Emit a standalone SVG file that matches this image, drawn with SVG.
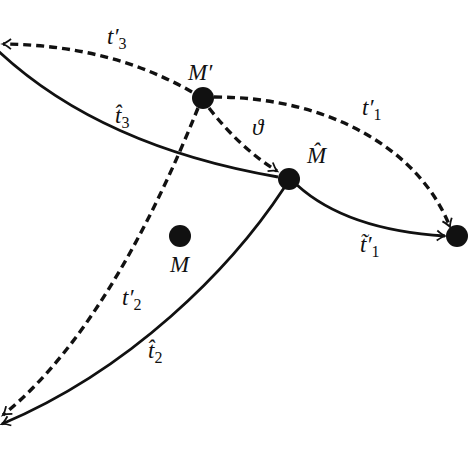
<svg xmlns="http://www.w3.org/2000/svg" width="474" height="474" viewBox="0 0 474 474">
<style>
.s{fill:none;stroke:#111;stroke-width:2.8}
.d{fill:none;stroke:#111;stroke-width:3.4;stroke-dasharray:8 5}
.n{fill:#111}
text{font-family:"Liberation Serif","DejaVu Serif",serif;font-style:italic;font-size:23px;fill:#111}
.sb{font-size:16px;font-style:normal}
</style>
<defs>
<marker id="a" markerUnits="userSpaceOnUse" markerWidth="16" markerHeight="16" refX="0" refY="0" viewBox="-10 -8 12 16" orient="auto" overflow="visible">
<path d="M-8,-5 Q-3,-1 0,0 Q-3,1 -8,5" fill="none" stroke="#111" stroke-width="1.8"/>
</marker>
</defs>
<rect width="474" height="474" fill="#fff"/>
<g id="connectors">
<path class="d" d="M192,92 Q110,45 3,44" marker-end="url(#a)"/>
<path class="s" d="M-5,48 C60,110 150,155 278,177"/>
<path class="d" d="M214,97 C330,97 420,150 450,227" marker-end="url(#a)"/>
<path class="d" d="M209,108 Q240,148 277,171" marker-end="url(#a)"/>
<path class="s" d="M297,185 C330,215 380,232 445,236" marker-end="url(#a)"/>
<path class="s" d="M284,188 C230,270 130,370 2,424" marker-end="url(#a)"/>
<path class="d" d="M198,108 C155,215 90,345 3,415" marker-end="url(#a)"/>
</g>
<g id="node-Mprime"><circle class="n" cx="203" cy="98" r="11"/><text x="188" y="80">M′</text></g>
<g id="node-Mhat"><circle class="n" cx="289" cy="179" r="11"/><text x="307" y="163">M̂</text></g>
<g id="node-right"><circle class="n" cx="457" cy="236" r="11"/></g>
<g id="node-M"><circle class="n" cx="180" cy="236" r="11"/><text x="170" y="272">M</text></g>
<g id="labels">
<text x="107" y="44">t′<tspan class="sb" dy="5">3</tspan></text>
<text x="115" y="123">t̂<tspan class="sb" dy="5">3</tspan></text>
<text x="252" y="135">ϑ</text>
<text x="362" y="115">t′<tspan class="sb" dy="5">1</tspan></text>
<text x="360" y="252">t̃′<tspan class="sb" dy="5">1</tspan></text>
<text x="122" y="305">t′<tspan class="sb" dy="5">2</tspan></text>
<text x="148" y="358">t̂<tspan class="sb" dy="5">2</tspan></text>
</g>
</svg>
